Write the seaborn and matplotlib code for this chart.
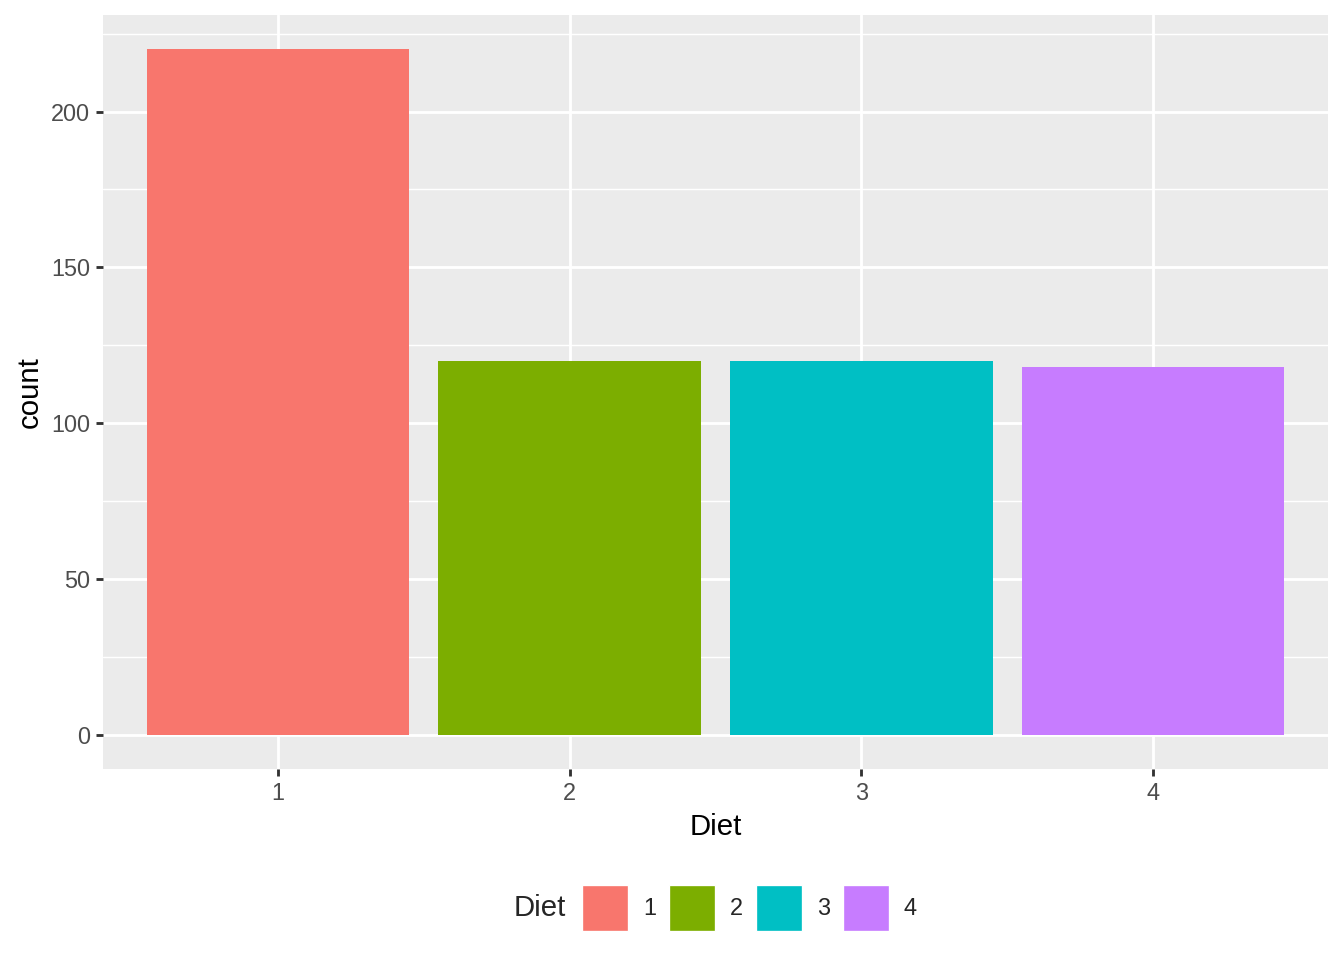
import numpy as np
import pandas as pd
import matplotlib
matplotlib.use("Agg")
import matplotlib.pyplot as plt
import matplotlib.patches as mpatches
import seaborn as sns

# ChickWeight: number of rows per diet
diets = ["1", "2", "3", "4"]
counts = [220, 120, 120, 118]
colors = ["#F8766D", "#7CAE00", "#00BFC4", "#C77CFF"]

df = pd.DataFrame({"Diet": diets, "count": counts})

sns.set_theme(style="darkgrid")
plt.rcParams["font.family"] = ["Liberation Sans", "DejaVu Sans"]

fig = plt.figure(figsize=(7, 5), dpi=192)
ax = fig.add_axes([103 / 1344, 1 - 769 / 960, (1328 - 103) / 1344, (769 - 15) / 960])
ax.set_facecolor("#EBEBEB")

sns.barplot(data=df, x="Diet", y="count", hue="Diet", palette=colors,
            width=0.9, legend=False, saturation=1, linewidth=0, ax=ax)

ax.set_xlim(-0.6, 3.6)
ax.set_ylim(-11, 231)
ax.set_yticks([0, 50, 100, 150, 200])
ax.set_yticks([25, 75, 125, 175, 225], minor=True)
ax.grid(which="major", color="white", linewidth=1.07)
ax.grid(which="minor", axis="y", color="white", linewidth=0.53)
ax.set_axisbelow(True)
for s in ax.spines.values():
    s.set_visible(False)

ax.tick_params(axis="both", which="major", length=2.75, width=1.07,
               bottom=True, left=True,
               color="#333333", labelcolor="#4D4D4D", labelsize=8.8, pad=2.0)
ax.tick_params(axis="both", which="minor", length=0)
ax.set_xlabel("Diet", fontsize=11, color="black", labelpad=3)
ax.set_ylabel("count", fontsize=11, color="black", labelpad=3)

handles = [mpatches.Patch(facecolor=c, edgecolor="white", linewidth=0.5) for c in colors]
fig.legend(handles, diets, loc="center", ncol=4, frameon=False,
           bbox_to_anchor=((581 + 918) / 2 / 1344, 1 - 908 / 960),
           fontsize=8.8, handlelength=1.95, handleheight=2.6,
           handletextpad=0.65, columnspacing=0.55, borderpad=0, borderaxespad=0)
fig.text(540 / 1344, 1 - 908 / 960, "Diet", fontsize=11, ha="center", va="center")

fig.savefig("out.png", dpi=192)
